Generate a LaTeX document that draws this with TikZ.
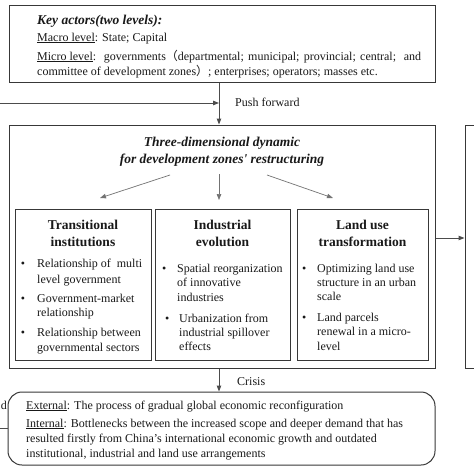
\documentclass[tikz,border=0pt]{standalone}
\usepackage{fontspec}
\setmainfont{Liberation Serif}
\newfontfamily\cjkfont{Noto Sans CJK SC}
\usetikzlibrary{arrows.meta}
\begin{document}
\begin{tikzpicture}[x=1pt,y=-1pt,
  every node/.style={inner sep=0pt, text=black!90},
  frame/.style={draw=black!78, line width=1pt, rectangle},
  conn/.style={draw=black!70, line width=1pt},
  thin/.style={draw=black!55, line width=0.7pt},
  tip/.style={-{Triangle[length=6pt,width=4.5pt]}},
  ln/.style={anchor=base west, font=\fontsize{12}{14}\selectfont},
  hd/.style={anchor=base, font=\fontsize{13.5}{16}\selectfont\bfseries},
  ttl/.style={anchor=base, font=\fontsize{13.5}{16}\selectfont\bfseries\itshape}]
\clip (0,0) rectangle (474,474);
\fill[white] (0,0) rectangle (474,474);

% boxes
\node[frame, minimum width=426pt, minimum height=77pt] (top) at (222,43.5) {};
\node[frame, minimum width=426pt, minimum height=243pt] (main) at (222,246.5) {};
\node[frame, minimum width=136pt, minimum height=151pt] (b1) at (83,284.5) {};
\node[frame, minimum width=135pt, minimum height=151pt] (b2) at (222.5,284.5) {};
\node[frame, minimum width=131pt, minimum height=151pt] (b3) at (362.5,284.5) {};
\node[frame, minimum width=60pt, minimum height=243pt] (right) at (495,246.5) {};
\node[frame, rounded corners=14pt, minimum width=427pt, minimum height=73pt] (bot) at (221.5,428.5) {};

% helper coordinates
\coordinate (ax) at (219,0);
\coordinate (ry) at (0,238);
\coordinate (fbL) at (-12,428.5);
\coordinate (fbT) at (-12,103);
\coordinate (a1s) at (170,175);
\coordinate (a1e) at (100,198);
\coordinate (a2s) at (219,174);
\coordinate (a2e) at (219,200);
\coordinate (a3s) at (267,175);
\coordinate (a3e) at (333,198);

% connectors
\draw[conn, tip] (top.south -| ax) -- (main.north -| ax);
\draw[conn, tip] (bot.west) -- (fbL) -- (fbT) -- (fbT -| ax);
\draw[conn, tip] (main.south -| ax) -- (bot.north -| ax);
\draw[conn, tip] (main.east |- ry) -- (right.west |- ry);
\draw[thin, tip] (a1s) -- (a1e);
\draw[thin, tip] (a2s) -- (a2e);
\draw[thin, tip] (a3s) -- (a3e);

% labels
\node[ln] (push) at (235,106) {Push forward};
\node[ln] (crisis) at (237,385) {Crisis};
\node[ln, anchor=base east] (fbl) at (7,409) {d};

% top box text
\node[ttl, anchor=base west] (kt) at (37,24.5) {Key actors(two levels):};
\node[ln] (mac) at (37,41) {\underline{Macro level}: State; Capital};
\node[ln] (mic1) at (37,60) {\makebox[384pt][s]{\underline{Micro level}:\ \ governments{\cjkfont （}departmental; municipal; provincial; central;\ \ and}};
\node[ln] (mic2) at (37,75) {committee of development zones{\cjkfont ）}; enterprises; operators; masses etc.};

% main title
\node[ttl] (t1) at (222,146.5) {Three-dimensional dynamic};
\node[ttl] (t2) at (222,163.5) {for development zones\textquotesingle\ restructuring};

% headings
\node[hd] (h1a) at (83,229.5) {Transitional};
\node[hd] (h1b) at (83,246) {institutions};
\node[hd] (h2a) at (222.5,229.5) {Industrial};
\node[hd] (h2b) at (222.5,246) {evolution};
\node[hd] (h3a) at (362.5,229.5) {Land use};
\node[hd] (h3b) at (362.5,246) {transformation};

% box 1
\node[ln] (p11) at (37,267) {\llap{\textbullet\hspace{12pt}}Relationship of\ \ multi};
\node[ln] (p12) at (37,283) {level government};
\node[ln] (p13) at (37,302) {\llap{\textbullet\hspace{12pt}}Government-market};
\node[ln] (p14) at (37,316) {relationship};
\node[ln] (p15) at (37,336) {\llap{\textbullet\hspace{12pt}}Relationship between};
\node[ln] (p16) at (37,351) {governmental sectors};

% box 2
\node[ln] (p21) at (177,272) {\llap{\textbullet\hspace{11pt}}Spatial reorganization};
\node[ln] (p22) at (177,286) {of innovative};
\node[ln] (p23) at (177,301) {industries};
\node[ln] (p24) at (179,322) {\llap{\textbullet\hspace{10pt}}Urbanization from};
\node[ln] (p25) at (179,336) {industrial spillover};
\node[ln] (p26) at (179,350) {effects};

% box 3
\node[ln] (p31) at (317,272) {\llap{\textbullet\hspace{11pt}}Optimizing land use};
\node[ln] (p32) at (317,286) {structure in an urban};
\node[ln] (p33) at (317,300) {scale};
\node[ln] (p34) at (317,321) {\llap{\textbullet\hspace{11pt}}Land parcels};
\node[ln] (p35) at (317,335) {renewal in a micro-};
\node[ln] (p36) at (317,350) {level};

% bottom box text
\node[ln] (e1) at (26,409) {\underline{External}: The process of gradual global economic reconfiguration};
\node[ln] (i1) at (26,427) {\underline{Internal}: Bottlenecks between the increased scope and deeper demand that has};
\node[ln] (i2) at (26,442) {resulted firstly from China’s international economic growth and outdated};
\node[ln] (i3) at (26,457) {institutional, industrial and land use arrangements};
\end{tikzpicture}
\end{document}
